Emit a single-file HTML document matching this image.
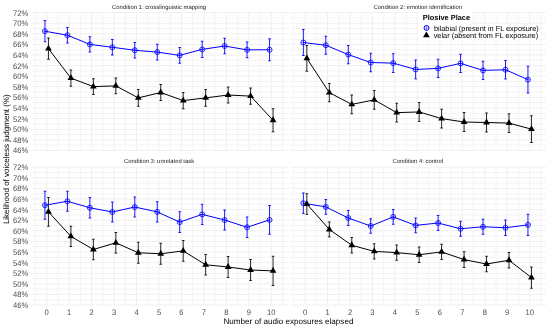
<!DOCTYPE html>
<html><head><meta charset="utf-8"><style>
html,body{margin:0;padding:0;background:#fff;}
svg{display:block;}
svg{will-change:transform;}
text{text-rendering:geometricPrecision;}
</style></head><body>
<svg width="550" height="328" viewBox="0 0 550 328">
<rect width="550" height="328" fill="#fff"/>
<line x1="35.47" y1="12.3" x2="35.47" y2="150.4" stroke="#f4f4f4" stroke-width="1"/>
<line x1="57.93" y1="12.3" x2="57.93" y2="150.4" stroke="#f4f4f4" stroke-width="1"/>
<line x1="80.39" y1="12.3" x2="80.39" y2="150.4" stroke="#f4f4f4" stroke-width="1"/>
<line x1="102.85" y1="12.3" x2="102.85" y2="150.4" stroke="#f4f4f4" stroke-width="1"/>
<line x1="125.31" y1="12.3" x2="125.31" y2="150.4" stroke="#f4f4f4" stroke-width="1"/>
<line x1="147.77" y1="12.3" x2="147.77" y2="150.4" stroke="#f4f4f4" stroke-width="1"/>
<line x1="170.23" y1="12.3" x2="170.23" y2="150.4" stroke="#f4f4f4" stroke-width="1"/>
<line x1="192.69" y1="12.3" x2="192.69" y2="150.4" stroke="#f4f4f4" stroke-width="1"/>
<line x1="215.15" y1="12.3" x2="215.15" y2="150.4" stroke="#f4f4f4" stroke-width="1"/>
<line x1="237.61" y1="12.3" x2="237.61" y2="150.4" stroke="#f4f4f4" stroke-width="1"/>
<line x1="260.07" y1="12.3" x2="260.07" y2="150.4" stroke="#f4f4f4" stroke-width="1"/>
<line x1="282.53" y1="12.3" x2="282.53" y2="150.4" stroke="#f4f4f4" stroke-width="1"/>
<line x1="31.6" y1="145.10" x2="287.8" y2="145.10" stroke="#f4f4f4" stroke-width="1"/>
<line x1="31.6" y1="134.50" x2="287.8" y2="134.50" stroke="#f4f4f4" stroke-width="1"/>
<line x1="31.6" y1="123.90" x2="287.8" y2="123.90" stroke="#f4f4f4" stroke-width="1"/>
<line x1="31.6" y1="113.30" x2="287.8" y2="113.30" stroke="#f4f4f4" stroke-width="1"/>
<line x1="31.6" y1="102.70" x2="287.8" y2="102.70" stroke="#f4f4f4" stroke-width="1"/>
<line x1="31.6" y1="92.10" x2="287.8" y2="92.10" stroke="#f4f4f4" stroke-width="1"/>
<line x1="31.6" y1="81.50" x2="287.8" y2="81.50" stroke="#f4f4f4" stroke-width="1"/>
<line x1="31.6" y1="70.90" x2="287.8" y2="70.90" stroke="#f4f4f4" stroke-width="1"/>
<line x1="31.6" y1="60.30" x2="287.8" y2="60.30" stroke="#f4f4f4" stroke-width="1"/>
<line x1="31.6" y1="49.70" x2="287.8" y2="49.70" stroke="#f4f4f4" stroke-width="1"/>
<line x1="31.6" y1="39.10" x2="287.8" y2="39.10" stroke="#f4f4f4" stroke-width="1"/>
<line x1="31.6" y1="28.50" x2="287.8" y2="28.50" stroke="#f4f4f4" stroke-width="1"/>
<line x1="31.6" y1="17.90" x2="287.8" y2="17.90" stroke="#f4f4f4" stroke-width="1"/>
<line x1="46.70" y1="12.3" x2="46.70" y2="150.4" stroke="#f0f0f0" stroke-width="1"/>
<line x1="69.16" y1="12.3" x2="69.16" y2="150.4" stroke="#f0f0f0" stroke-width="1"/>
<line x1="91.62" y1="12.3" x2="91.62" y2="150.4" stroke="#f0f0f0" stroke-width="1"/>
<line x1="114.08" y1="12.3" x2="114.08" y2="150.4" stroke="#f0f0f0" stroke-width="1"/>
<line x1="136.54" y1="12.3" x2="136.54" y2="150.4" stroke="#f0f0f0" stroke-width="1"/>
<line x1="159.00" y1="12.3" x2="159.00" y2="150.4" stroke="#f0f0f0" stroke-width="1"/>
<line x1="181.46" y1="12.3" x2="181.46" y2="150.4" stroke="#f0f0f0" stroke-width="1"/>
<line x1="203.92" y1="12.3" x2="203.92" y2="150.4" stroke="#f0f0f0" stroke-width="1"/>
<line x1="226.38" y1="12.3" x2="226.38" y2="150.4" stroke="#f0f0f0" stroke-width="1"/>
<line x1="248.84" y1="12.3" x2="248.84" y2="150.4" stroke="#f0f0f0" stroke-width="1"/>
<line x1="271.30" y1="12.3" x2="271.30" y2="150.4" stroke="#f0f0f0" stroke-width="1"/>
<line x1="31.6" y1="150.40" x2="287.8" y2="150.40" stroke="#f0f0f0" stroke-width="1"/>
<line x1="31.6" y1="139.80" x2="287.8" y2="139.80" stroke="#f0f0f0" stroke-width="1"/>
<line x1="31.6" y1="129.20" x2="287.8" y2="129.20" stroke="#f0f0f0" stroke-width="1"/>
<line x1="31.6" y1="118.60" x2="287.8" y2="118.60" stroke="#f0f0f0" stroke-width="1"/>
<line x1="31.6" y1="108.00" x2="287.8" y2="108.00" stroke="#f0f0f0" stroke-width="1"/>
<line x1="31.6" y1="97.40" x2="287.8" y2="97.40" stroke="#f0f0f0" stroke-width="1"/>
<line x1="31.6" y1="86.80" x2="287.8" y2="86.80" stroke="#f0f0f0" stroke-width="1"/>
<line x1="31.6" y1="76.20" x2="287.8" y2="76.20" stroke="#f0f0f0" stroke-width="1"/>
<line x1="31.6" y1="65.60" x2="287.8" y2="65.60" stroke="#f0f0f0" stroke-width="1"/>
<line x1="31.6" y1="55.00" x2="287.8" y2="55.00" stroke="#f0f0f0" stroke-width="1"/>
<line x1="31.6" y1="44.40" x2="287.8" y2="44.40" stroke="#f0f0f0" stroke-width="1"/>
<line x1="31.6" y1="33.80" x2="287.8" y2="33.80" stroke="#f0f0f0" stroke-width="1"/>
<line x1="31.6" y1="23.20" x2="287.8" y2="23.20" stroke="#f0f0f0" stroke-width="1"/>
<line x1="31.6" y1="12.60" x2="287.8" y2="12.60" stroke="#f0f0f0" stroke-width="1"/>
<line x1="293.87" y1="12.3" x2="293.87" y2="150.4" stroke="#f4f4f4" stroke-width="1"/>
<line x1="316.33" y1="12.3" x2="316.33" y2="150.4" stroke="#f4f4f4" stroke-width="1"/>
<line x1="338.79" y1="12.3" x2="338.79" y2="150.4" stroke="#f4f4f4" stroke-width="1"/>
<line x1="361.25" y1="12.3" x2="361.25" y2="150.4" stroke="#f4f4f4" stroke-width="1"/>
<line x1="383.71" y1="12.3" x2="383.71" y2="150.4" stroke="#f4f4f4" stroke-width="1"/>
<line x1="406.17" y1="12.3" x2="406.17" y2="150.4" stroke="#f4f4f4" stroke-width="1"/>
<line x1="428.63" y1="12.3" x2="428.63" y2="150.4" stroke="#f4f4f4" stroke-width="1"/>
<line x1="451.09" y1="12.3" x2="451.09" y2="150.4" stroke="#f4f4f4" stroke-width="1"/>
<line x1="473.55" y1="12.3" x2="473.55" y2="150.4" stroke="#f4f4f4" stroke-width="1"/>
<line x1="496.01" y1="12.3" x2="496.01" y2="150.4" stroke="#f4f4f4" stroke-width="1"/>
<line x1="518.47" y1="12.3" x2="518.47" y2="150.4" stroke="#f4f4f4" stroke-width="1"/>
<line x1="540.93" y1="12.3" x2="540.93" y2="150.4" stroke="#f4f4f4" stroke-width="1"/>
<line x1="290.1" y1="145.10" x2="546.0" y2="145.10" stroke="#f4f4f4" stroke-width="1"/>
<line x1="290.1" y1="134.50" x2="546.0" y2="134.50" stroke="#f4f4f4" stroke-width="1"/>
<line x1="290.1" y1="123.90" x2="546.0" y2="123.90" stroke="#f4f4f4" stroke-width="1"/>
<line x1="290.1" y1="113.30" x2="546.0" y2="113.30" stroke="#f4f4f4" stroke-width="1"/>
<line x1="290.1" y1="102.70" x2="546.0" y2="102.70" stroke="#f4f4f4" stroke-width="1"/>
<line x1="290.1" y1="92.10" x2="546.0" y2="92.10" stroke="#f4f4f4" stroke-width="1"/>
<line x1="290.1" y1="81.50" x2="546.0" y2="81.50" stroke="#f4f4f4" stroke-width="1"/>
<line x1="290.1" y1="70.90" x2="546.0" y2="70.90" stroke="#f4f4f4" stroke-width="1"/>
<line x1="290.1" y1="60.30" x2="546.0" y2="60.30" stroke="#f4f4f4" stroke-width="1"/>
<line x1="290.1" y1="49.70" x2="546.0" y2="49.70" stroke="#f4f4f4" stroke-width="1"/>
<line x1="290.1" y1="39.10" x2="546.0" y2="39.10" stroke="#f4f4f4" stroke-width="1"/>
<line x1="290.1" y1="28.50" x2="546.0" y2="28.50" stroke="#f4f4f4" stroke-width="1"/>
<line x1="290.1" y1="17.90" x2="546.0" y2="17.90" stroke="#f4f4f4" stroke-width="1"/>
<line x1="305.10" y1="12.3" x2="305.10" y2="150.4" stroke="#f0f0f0" stroke-width="1"/>
<line x1="327.56" y1="12.3" x2="327.56" y2="150.4" stroke="#f0f0f0" stroke-width="1"/>
<line x1="350.02" y1="12.3" x2="350.02" y2="150.4" stroke="#f0f0f0" stroke-width="1"/>
<line x1="372.48" y1="12.3" x2="372.48" y2="150.4" stroke="#f0f0f0" stroke-width="1"/>
<line x1="394.94" y1="12.3" x2="394.94" y2="150.4" stroke="#f0f0f0" stroke-width="1"/>
<line x1="417.40" y1="12.3" x2="417.40" y2="150.4" stroke="#f0f0f0" stroke-width="1"/>
<line x1="439.86" y1="12.3" x2="439.86" y2="150.4" stroke="#f0f0f0" stroke-width="1"/>
<line x1="462.32" y1="12.3" x2="462.32" y2="150.4" stroke="#f0f0f0" stroke-width="1"/>
<line x1="484.78" y1="12.3" x2="484.78" y2="150.4" stroke="#f0f0f0" stroke-width="1"/>
<line x1="507.24" y1="12.3" x2="507.24" y2="150.4" stroke="#f0f0f0" stroke-width="1"/>
<line x1="529.70" y1="12.3" x2="529.70" y2="150.4" stroke="#f0f0f0" stroke-width="1"/>
<line x1="290.1" y1="150.40" x2="546.0" y2="150.40" stroke="#f0f0f0" stroke-width="1"/>
<line x1="290.1" y1="139.80" x2="546.0" y2="139.80" stroke="#f0f0f0" stroke-width="1"/>
<line x1="290.1" y1="129.20" x2="546.0" y2="129.20" stroke="#f0f0f0" stroke-width="1"/>
<line x1="290.1" y1="118.60" x2="546.0" y2="118.60" stroke="#f0f0f0" stroke-width="1"/>
<line x1="290.1" y1="108.00" x2="546.0" y2="108.00" stroke="#f0f0f0" stroke-width="1"/>
<line x1="290.1" y1="97.40" x2="546.0" y2="97.40" stroke="#f0f0f0" stroke-width="1"/>
<line x1="290.1" y1="86.80" x2="546.0" y2="86.80" stroke="#f0f0f0" stroke-width="1"/>
<line x1="290.1" y1="76.20" x2="546.0" y2="76.20" stroke="#f0f0f0" stroke-width="1"/>
<line x1="290.1" y1="65.60" x2="546.0" y2="65.60" stroke="#f0f0f0" stroke-width="1"/>
<line x1="290.1" y1="55.00" x2="546.0" y2="55.00" stroke="#f0f0f0" stroke-width="1"/>
<line x1="290.1" y1="44.40" x2="546.0" y2="44.40" stroke="#f0f0f0" stroke-width="1"/>
<line x1="290.1" y1="33.80" x2="546.0" y2="33.80" stroke="#f0f0f0" stroke-width="1"/>
<line x1="290.1" y1="23.20" x2="546.0" y2="23.20" stroke="#f0f0f0" stroke-width="1"/>
<line x1="290.1" y1="12.60" x2="546.0" y2="12.60" stroke="#f0f0f0" stroke-width="1"/>
<line x1="35.47" y1="167.0" x2="35.47" y2="305.0" stroke="#f4f4f4" stroke-width="1"/>
<line x1="57.93" y1="167.0" x2="57.93" y2="305.0" stroke="#f4f4f4" stroke-width="1"/>
<line x1="80.39" y1="167.0" x2="80.39" y2="305.0" stroke="#f4f4f4" stroke-width="1"/>
<line x1="102.85" y1="167.0" x2="102.85" y2="305.0" stroke="#f4f4f4" stroke-width="1"/>
<line x1="125.31" y1="167.0" x2="125.31" y2="305.0" stroke="#f4f4f4" stroke-width="1"/>
<line x1="147.77" y1="167.0" x2="147.77" y2="305.0" stroke="#f4f4f4" stroke-width="1"/>
<line x1="170.23" y1="167.0" x2="170.23" y2="305.0" stroke="#f4f4f4" stroke-width="1"/>
<line x1="192.69" y1="167.0" x2="192.69" y2="305.0" stroke="#f4f4f4" stroke-width="1"/>
<line x1="215.15" y1="167.0" x2="215.15" y2="305.0" stroke="#f4f4f4" stroke-width="1"/>
<line x1="237.61" y1="167.0" x2="237.61" y2="305.0" stroke="#f4f4f4" stroke-width="1"/>
<line x1="260.07" y1="167.0" x2="260.07" y2="305.0" stroke="#f4f4f4" stroke-width="1"/>
<line x1="282.53" y1="167.0" x2="282.53" y2="305.0" stroke="#f4f4f4" stroke-width="1"/>
<line x1="31.6" y1="299.70" x2="287.8" y2="299.70" stroke="#f4f4f4" stroke-width="1"/>
<line x1="31.6" y1="289.10" x2="287.8" y2="289.10" stroke="#f4f4f4" stroke-width="1"/>
<line x1="31.6" y1="278.50" x2="287.8" y2="278.50" stroke="#f4f4f4" stroke-width="1"/>
<line x1="31.6" y1="267.90" x2="287.8" y2="267.90" stroke="#f4f4f4" stroke-width="1"/>
<line x1="31.6" y1="257.30" x2="287.8" y2="257.30" stroke="#f4f4f4" stroke-width="1"/>
<line x1="31.6" y1="246.70" x2="287.8" y2="246.70" stroke="#f4f4f4" stroke-width="1"/>
<line x1="31.6" y1="236.10" x2="287.8" y2="236.10" stroke="#f4f4f4" stroke-width="1"/>
<line x1="31.6" y1="225.50" x2="287.8" y2="225.50" stroke="#f4f4f4" stroke-width="1"/>
<line x1="31.6" y1="214.90" x2="287.8" y2="214.90" stroke="#f4f4f4" stroke-width="1"/>
<line x1="31.6" y1="204.30" x2="287.8" y2="204.30" stroke="#f4f4f4" stroke-width="1"/>
<line x1="31.6" y1="193.70" x2="287.8" y2="193.70" stroke="#f4f4f4" stroke-width="1"/>
<line x1="31.6" y1="183.10" x2="287.8" y2="183.10" stroke="#f4f4f4" stroke-width="1"/>
<line x1="31.6" y1="172.50" x2="287.8" y2="172.50" stroke="#f4f4f4" stroke-width="1"/>
<line x1="46.70" y1="167.0" x2="46.70" y2="305.0" stroke="#f0f0f0" stroke-width="1"/>
<line x1="69.16" y1="167.0" x2="69.16" y2="305.0" stroke="#f0f0f0" stroke-width="1"/>
<line x1="91.62" y1="167.0" x2="91.62" y2="305.0" stroke="#f0f0f0" stroke-width="1"/>
<line x1="114.08" y1="167.0" x2="114.08" y2="305.0" stroke="#f0f0f0" stroke-width="1"/>
<line x1="136.54" y1="167.0" x2="136.54" y2="305.0" stroke="#f0f0f0" stroke-width="1"/>
<line x1="159.00" y1="167.0" x2="159.00" y2="305.0" stroke="#f0f0f0" stroke-width="1"/>
<line x1="181.46" y1="167.0" x2="181.46" y2="305.0" stroke="#f0f0f0" stroke-width="1"/>
<line x1="203.92" y1="167.0" x2="203.92" y2="305.0" stroke="#f0f0f0" stroke-width="1"/>
<line x1="226.38" y1="167.0" x2="226.38" y2="305.0" stroke="#f0f0f0" stroke-width="1"/>
<line x1="248.84" y1="167.0" x2="248.84" y2="305.0" stroke="#f0f0f0" stroke-width="1"/>
<line x1="271.30" y1="167.0" x2="271.30" y2="305.0" stroke="#f0f0f0" stroke-width="1"/>
<line x1="31.6" y1="305.00" x2="287.8" y2="305.00" stroke="#f0f0f0" stroke-width="1"/>
<line x1="31.6" y1="294.40" x2="287.8" y2="294.40" stroke="#f0f0f0" stroke-width="1"/>
<line x1="31.6" y1="283.80" x2="287.8" y2="283.80" stroke="#f0f0f0" stroke-width="1"/>
<line x1="31.6" y1="273.20" x2="287.8" y2="273.20" stroke="#f0f0f0" stroke-width="1"/>
<line x1="31.6" y1="262.60" x2="287.8" y2="262.60" stroke="#f0f0f0" stroke-width="1"/>
<line x1="31.6" y1="252.00" x2="287.8" y2="252.00" stroke="#f0f0f0" stroke-width="1"/>
<line x1="31.6" y1="241.40" x2="287.8" y2="241.40" stroke="#f0f0f0" stroke-width="1"/>
<line x1="31.6" y1="230.80" x2="287.8" y2="230.80" stroke="#f0f0f0" stroke-width="1"/>
<line x1="31.6" y1="220.20" x2="287.8" y2="220.20" stroke="#f0f0f0" stroke-width="1"/>
<line x1="31.6" y1="209.60" x2="287.8" y2="209.60" stroke="#f0f0f0" stroke-width="1"/>
<line x1="31.6" y1="199.00" x2="287.8" y2="199.00" stroke="#f0f0f0" stroke-width="1"/>
<line x1="31.6" y1="188.40" x2="287.8" y2="188.40" stroke="#f0f0f0" stroke-width="1"/>
<line x1="31.6" y1="177.80" x2="287.8" y2="177.80" stroke="#f0f0f0" stroke-width="1"/>
<line x1="31.6" y1="167.20" x2="287.8" y2="167.20" stroke="#f0f0f0" stroke-width="1"/>
<line x1="293.87" y1="167.0" x2="293.87" y2="305.0" stroke="#f4f4f4" stroke-width="1"/>
<line x1="316.33" y1="167.0" x2="316.33" y2="305.0" stroke="#f4f4f4" stroke-width="1"/>
<line x1="338.79" y1="167.0" x2="338.79" y2="305.0" stroke="#f4f4f4" stroke-width="1"/>
<line x1="361.25" y1="167.0" x2="361.25" y2="305.0" stroke="#f4f4f4" stroke-width="1"/>
<line x1="383.71" y1="167.0" x2="383.71" y2="305.0" stroke="#f4f4f4" stroke-width="1"/>
<line x1="406.17" y1="167.0" x2="406.17" y2="305.0" stroke="#f4f4f4" stroke-width="1"/>
<line x1="428.63" y1="167.0" x2="428.63" y2="305.0" stroke="#f4f4f4" stroke-width="1"/>
<line x1="451.09" y1="167.0" x2="451.09" y2="305.0" stroke="#f4f4f4" stroke-width="1"/>
<line x1="473.55" y1="167.0" x2="473.55" y2="305.0" stroke="#f4f4f4" stroke-width="1"/>
<line x1="496.01" y1="167.0" x2="496.01" y2="305.0" stroke="#f4f4f4" stroke-width="1"/>
<line x1="518.47" y1="167.0" x2="518.47" y2="305.0" stroke="#f4f4f4" stroke-width="1"/>
<line x1="540.93" y1="167.0" x2="540.93" y2="305.0" stroke="#f4f4f4" stroke-width="1"/>
<line x1="290.1" y1="299.70" x2="546.0" y2="299.70" stroke="#f4f4f4" stroke-width="1"/>
<line x1="290.1" y1="289.10" x2="546.0" y2="289.10" stroke="#f4f4f4" stroke-width="1"/>
<line x1="290.1" y1="278.50" x2="546.0" y2="278.50" stroke="#f4f4f4" stroke-width="1"/>
<line x1="290.1" y1="267.90" x2="546.0" y2="267.90" stroke="#f4f4f4" stroke-width="1"/>
<line x1="290.1" y1="257.30" x2="546.0" y2="257.30" stroke="#f4f4f4" stroke-width="1"/>
<line x1="290.1" y1="246.70" x2="546.0" y2="246.70" stroke="#f4f4f4" stroke-width="1"/>
<line x1="290.1" y1="236.10" x2="546.0" y2="236.10" stroke="#f4f4f4" stroke-width="1"/>
<line x1="290.1" y1="225.50" x2="546.0" y2="225.50" stroke="#f4f4f4" stroke-width="1"/>
<line x1="290.1" y1="214.90" x2="546.0" y2="214.90" stroke="#f4f4f4" stroke-width="1"/>
<line x1="290.1" y1="204.30" x2="546.0" y2="204.30" stroke="#f4f4f4" stroke-width="1"/>
<line x1="290.1" y1="193.70" x2="546.0" y2="193.70" stroke="#f4f4f4" stroke-width="1"/>
<line x1="290.1" y1="183.10" x2="546.0" y2="183.10" stroke="#f4f4f4" stroke-width="1"/>
<line x1="290.1" y1="172.50" x2="546.0" y2="172.50" stroke="#f4f4f4" stroke-width="1"/>
<line x1="305.10" y1="167.0" x2="305.10" y2="305.0" stroke="#f0f0f0" stroke-width="1"/>
<line x1="327.56" y1="167.0" x2="327.56" y2="305.0" stroke="#f0f0f0" stroke-width="1"/>
<line x1="350.02" y1="167.0" x2="350.02" y2="305.0" stroke="#f0f0f0" stroke-width="1"/>
<line x1="372.48" y1="167.0" x2="372.48" y2="305.0" stroke="#f0f0f0" stroke-width="1"/>
<line x1="394.94" y1="167.0" x2="394.94" y2="305.0" stroke="#f0f0f0" stroke-width="1"/>
<line x1="417.40" y1="167.0" x2="417.40" y2="305.0" stroke="#f0f0f0" stroke-width="1"/>
<line x1="439.86" y1="167.0" x2="439.86" y2="305.0" stroke="#f0f0f0" stroke-width="1"/>
<line x1="462.32" y1="167.0" x2="462.32" y2="305.0" stroke="#f0f0f0" stroke-width="1"/>
<line x1="484.78" y1="167.0" x2="484.78" y2="305.0" stroke="#f0f0f0" stroke-width="1"/>
<line x1="507.24" y1="167.0" x2="507.24" y2="305.0" stroke="#f0f0f0" stroke-width="1"/>
<line x1="529.70" y1="167.0" x2="529.70" y2="305.0" stroke="#f0f0f0" stroke-width="1"/>
<line x1="290.1" y1="305.00" x2="546.0" y2="305.00" stroke="#f0f0f0" stroke-width="1"/>
<line x1="290.1" y1="294.40" x2="546.0" y2="294.40" stroke="#f0f0f0" stroke-width="1"/>
<line x1="290.1" y1="283.80" x2="546.0" y2="283.80" stroke="#f0f0f0" stroke-width="1"/>
<line x1="290.1" y1="273.20" x2="546.0" y2="273.20" stroke="#f0f0f0" stroke-width="1"/>
<line x1="290.1" y1="262.60" x2="546.0" y2="262.60" stroke="#f0f0f0" stroke-width="1"/>
<line x1="290.1" y1="252.00" x2="546.0" y2="252.00" stroke="#f0f0f0" stroke-width="1"/>
<line x1="290.1" y1="241.40" x2="546.0" y2="241.40" stroke="#f0f0f0" stroke-width="1"/>
<line x1="290.1" y1="230.80" x2="546.0" y2="230.80" stroke="#f0f0f0" stroke-width="1"/>
<line x1="290.1" y1="220.20" x2="546.0" y2="220.20" stroke="#f0f0f0" stroke-width="1"/>
<line x1="290.1" y1="209.60" x2="546.0" y2="209.60" stroke="#f0f0f0" stroke-width="1"/>
<line x1="290.1" y1="199.00" x2="546.0" y2="199.00" stroke="#f0f0f0" stroke-width="1"/>
<line x1="290.1" y1="188.40" x2="546.0" y2="188.40" stroke="#f0f0f0" stroke-width="1"/>
<line x1="290.1" y1="177.80" x2="546.0" y2="177.80" stroke="#f0f0f0" stroke-width="1"/>
<line x1="290.1" y1="167.20" x2="546.0" y2="167.20" stroke="#f0f0f0" stroke-width="1"/>
<line x1="44.95" y1="20.6" x2="44.95" y2="41.8" stroke="#0000ff" stroke-width="0.9"/>
<line x1="43.65" y1="20.6" x2="46.25" y2="20.6" stroke="#0000ff" stroke-width="0.9"/>
<line x1="43.65" y1="41.8" x2="46.25" y2="41.8" stroke="#0000ff" stroke-width="0.9"/>
<line x1="67.41" y1="27.5" x2="67.41" y2="43" stroke="#0000ff" stroke-width="0.9"/>
<line x1="66.11" y1="27.5" x2="68.71" y2="27.5" stroke="#0000ff" stroke-width="0.9"/>
<line x1="66.11" y1="43" x2="68.71" y2="43" stroke="#0000ff" stroke-width="0.9"/>
<line x1="89.87" y1="36.75" x2="89.87" y2="52" stroke="#0000ff" stroke-width="0.9"/>
<line x1="88.57" y1="36.75" x2="91.17" y2="36.75" stroke="#0000ff" stroke-width="0.9"/>
<line x1="88.57" y1="52" x2="91.17" y2="52" stroke="#0000ff" stroke-width="0.9"/>
<line x1="112.33" y1="39.5" x2="112.33" y2="55" stroke="#0000ff" stroke-width="0.9"/>
<line x1="111.03" y1="39.5" x2="113.63" y2="39.5" stroke="#0000ff" stroke-width="0.9"/>
<line x1="111.03" y1="55" x2="113.63" y2="55" stroke="#0000ff" stroke-width="0.9"/>
<line x1="134.79" y1="42.5" x2="134.79" y2="58" stroke="#0000ff" stroke-width="0.9"/>
<line x1="133.49" y1="42.5" x2="136.09" y2="42.5" stroke="#0000ff" stroke-width="0.9"/>
<line x1="133.49" y1="58" x2="136.09" y2="58" stroke="#0000ff" stroke-width="0.9"/>
<line x1="157.25" y1="44.25" x2="157.25" y2="60" stroke="#0000ff" stroke-width="0.9"/>
<line x1="155.95" y1="44.25" x2="158.55" y2="44.25" stroke="#0000ff" stroke-width="0.9"/>
<line x1="155.95" y1="60" x2="158.55" y2="60" stroke="#0000ff" stroke-width="0.9"/>
<line x1="179.71" y1="47.5" x2="179.71" y2="63.25" stroke="#0000ff" stroke-width="0.9"/>
<line x1="178.41" y1="47.5" x2="181.01" y2="47.5" stroke="#0000ff" stroke-width="0.9"/>
<line x1="178.41" y1="63.25" x2="181.01" y2="63.25" stroke="#0000ff" stroke-width="0.9"/>
<line x1="202.17" y1="41.25" x2="202.17" y2="57.5" stroke="#0000ff" stroke-width="0.9"/>
<line x1="200.87" y1="41.25" x2="203.47" y2="41.25" stroke="#0000ff" stroke-width="0.9"/>
<line x1="200.87" y1="57.5" x2="203.47" y2="57.5" stroke="#0000ff" stroke-width="0.9"/>
<line x1="224.63" y1="38.25" x2="224.63" y2="53.75" stroke="#0000ff" stroke-width="0.9"/>
<line x1="223.33" y1="38.25" x2="225.93" y2="38.25" stroke="#0000ff" stroke-width="0.9"/>
<line x1="223.33" y1="53.75" x2="225.93" y2="53.75" stroke="#0000ff" stroke-width="0.9"/>
<line x1="247.09" y1="42" x2="247.09" y2="57.75" stroke="#0000ff" stroke-width="0.9"/>
<line x1="245.79" y1="42" x2="248.39" y2="42" stroke="#0000ff" stroke-width="0.9"/>
<line x1="245.79" y1="57.75" x2="248.39" y2="57.75" stroke="#0000ff" stroke-width="0.9"/>
<line x1="269.55" y1="38.75" x2="269.55" y2="60.75" stroke="#0000ff" stroke-width="0.9"/>
<line x1="268.25" y1="38.75" x2="270.85" y2="38.75" stroke="#0000ff" stroke-width="0.9"/>
<line x1="268.25" y1="60.75" x2="270.85" y2="60.75" stroke="#0000ff" stroke-width="0.9"/>
<line x1="48.45" y1="38" x2="48.45" y2="59.25" stroke="#000" stroke-width="0.85"/>
<line x1="47.15" y1="38" x2="49.75" y2="38" stroke="#000" stroke-width="0.85"/>
<line x1="47.15" y1="59.25" x2="49.75" y2="59.25" stroke="#000" stroke-width="0.85"/>
<line x1="70.91" y1="70" x2="70.91" y2="86.25" stroke="#000" stroke-width="0.85"/>
<line x1="69.61" y1="70" x2="72.21" y2="70" stroke="#000" stroke-width="0.85"/>
<line x1="69.61" y1="86.25" x2="72.21" y2="86.25" stroke="#000" stroke-width="0.85"/>
<line x1="93.37" y1="78.75" x2="93.37" y2="94.5" stroke="#000" stroke-width="0.85"/>
<line x1="92.07" y1="78.75" x2="94.67" y2="78.75" stroke="#000" stroke-width="0.85"/>
<line x1="92.07" y1="94.5" x2="94.67" y2="94.5" stroke="#000" stroke-width="0.85"/>
<line x1="115.83" y1="78" x2="115.83" y2="93.75" stroke="#000" stroke-width="0.85"/>
<line x1="114.53" y1="78" x2="117.13" y2="78" stroke="#000" stroke-width="0.85"/>
<line x1="114.53" y1="93.75" x2="117.13" y2="93.75" stroke="#000" stroke-width="0.85"/>
<line x1="138.29" y1="89.5" x2="138.29" y2="106.25" stroke="#000" stroke-width="0.85"/>
<line x1="136.99" y1="89.5" x2="139.59" y2="89.5" stroke="#000" stroke-width="0.85"/>
<line x1="136.99" y1="106.25" x2="139.59" y2="106.25" stroke="#000" stroke-width="0.85"/>
<line x1="160.75" y1="84.5" x2="160.75" y2="100.5" stroke="#000" stroke-width="0.85"/>
<line x1="159.45" y1="84.5" x2="162.05" y2="84.5" stroke="#000" stroke-width="0.85"/>
<line x1="159.45" y1="100.5" x2="162.05" y2="100.5" stroke="#000" stroke-width="0.85"/>
<line x1="183.21" y1="92.5" x2="183.21" y2="108.75" stroke="#000" stroke-width="0.85"/>
<line x1="181.91" y1="92.5" x2="184.51" y2="92.5" stroke="#000" stroke-width="0.85"/>
<line x1="181.91" y1="108.75" x2="184.51" y2="108.75" stroke="#000" stroke-width="0.85"/>
<line x1="205.67" y1="89.5" x2="205.67" y2="106.25" stroke="#000" stroke-width="0.85"/>
<line x1="204.37" y1="89.5" x2="206.97" y2="89.5" stroke="#000" stroke-width="0.85"/>
<line x1="204.37" y1="106.25" x2="206.97" y2="106.25" stroke="#000" stroke-width="0.85"/>
<line x1="228.13" y1="87" x2="228.13" y2="103" stroke="#000" stroke-width="0.85"/>
<line x1="226.83" y1="87" x2="229.43" y2="87" stroke="#000" stroke-width="0.85"/>
<line x1="226.83" y1="103" x2="229.43" y2="103" stroke="#000" stroke-width="0.85"/>
<line x1="250.59" y1="88" x2="250.59" y2="104.25" stroke="#000" stroke-width="0.85"/>
<line x1="249.29" y1="88" x2="251.89" y2="88" stroke="#000" stroke-width="0.85"/>
<line x1="249.29" y1="104.25" x2="251.89" y2="104.25" stroke="#000" stroke-width="0.85"/>
<line x1="273.05" y1="108.75" x2="273.05" y2="131.75" stroke="#000" stroke-width="0.85"/>
<line x1="271.75" y1="108.75" x2="274.35" y2="108.75" stroke="#000" stroke-width="0.85"/>
<line x1="271.75" y1="131.75" x2="274.35" y2="131.75" stroke="#000" stroke-width="0.85"/>
<path d="M44.95,31.20 L67.41,35.25 L89.87,44.38 L112.33,47.25 L134.79,50.25 L157.25,52.12 L179.71,55.38 L202.17,49.38 L224.63,46.00 L247.09,49.88 L269.55,49.75" fill="none" stroke="#0000ff" stroke-width="1.0" stroke-linejoin="round"/>
<path d="M48.45,48.62 L70.91,78.12 L93.37,86.62 L115.83,85.88 L138.29,97.88 L160.75,92.50 L183.21,100.62 L205.67,97.88 L228.13,95.00 L250.59,96.12 L273.05,120.25" fill="none" stroke="#000" stroke-width="1.0" stroke-linejoin="round"/>
<circle cx="44.95" cy="31.20" r="2.5" fill="none" stroke="#0000ff" stroke-width="0.8"/><path d="M42.45,31.20H47.45M44.95,28.70V33.70" stroke="#0000ff" stroke-width="0.4"/>
<circle cx="67.41" cy="35.25" r="2.5" fill="none" stroke="#0000ff" stroke-width="0.8"/><path d="M64.91,35.25H69.91M67.41,32.75V37.75" stroke="#0000ff" stroke-width="0.4"/>
<circle cx="89.87" cy="44.38" r="2.5" fill="none" stroke="#0000ff" stroke-width="0.8"/><path d="M87.37,44.38H92.37M89.87,41.88V46.88" stroke="#0000ff" stroke-width="0.4"/>
<circle cx="112.33" cy="47.25" r="2.5" fill="none" stroke="#0000ff" stroke-width="0.8"/><path d="M109.83,47.25H114.83M112.33,44.75V49.75" stroke="#0000ff" stroke-width="0.4"/>
<circle cx="134.79" cy="50.25" r="2.5" fill="none" stroke="#0000ff" stroke-width="0.8"/><path d="M132.29,50.25H137.29M134.79,47.75V52.75" stroke="#0000ff" stroke-width="0.4"/>
<circle cx="157.25" cy="52.12" r="2.5" fill="none" stroke="#0000ff" stroke-width="0.8"/><path d="M154.75,52.12H159.75M157.25,49.62V54.62" stroke="#0000ff" stroke-width="0.4"/>
<circle cx="179.71" cy="55.38" r="2.5" fill="none" stroke="#0000ff" stroke-width="0.8"/><path d="M177.21,55.38H182.21M179.71,52.88V57.88" stroke="#0000ff" stroke-width="0.4"/>
<circle cx="202.17" cy="49.38" r="2.5" fill="none" stroke="#0000ff" stroke-width="0.8"/><path d="M199.67,49.38H204.67M202.17,46.88V51.88" stroke="#0000ff" stroke-width="0.4"/>
<circle cx="224.63" cy="46.00" r="2.5" fill="none" stroke="#0000ff" stroke-width="0.8"/><path d="M222.13,46.00H227.13M224.63,43.50V48.50" stroke="#0000ff" stroke-width="0.4"/>
<circle cx="247.09" cy="49.88" r="2.5" fill="none" stroke="#0000ff" stroke-width="0.8"/><path d="M244.59,49.88H249.59M247.09,47.38V52.38" stroke="#0000ff" stroke-width="0.4"/>
<circle cx="269.55" cy="49.75" r="2.5" fill="none" stroke="#0000ff" stroke-width="0.8"/><path d="M267.05,49.75H272.05M269.55,47.25V52.25" stroke="#0000ff" stroke-width="0.4"/>
<path d="M48.45,44.73L51.83,50.58L45.07,50.58Z" fill="#000"/>
<path d="M70.91,74.22L74.29,80.08L67.53,80.08Z" fill="#000"/>
<path d="M93.37,82.72L96.75,88.58L89.99,88.58Z" fill="#000"/>
<path d="M115.83,81.97L119.21,87.83L112.45,87.83Z" fill="#000"/>
<path d="M138.29,93.97L141.67,99.83L134.91,99.83Z" fill="#000"/>
<path d="M160.75,88.60L164.13,94.45L157.37,94.45Z" fill="#000"/>
<path d="M183.21,96.72L186.59,102.58L179.83,102.58Z" fill="#000"/>
<path d="M205.67,93.97L209.05,99.83L202.29,99.83Z" fill="#000"/>
<path d="M228.13,91.10L231.51,96.95L224.75,96.95Z" fill="#000"/>
<path d="M250.59,92.22L253.97,98.08L247.21,98.08Z" fill="#000"/>
<path d="M273.05,116.35L276.43,122.20L269.67,122.20Z" fill="#000"/>
<line x1="303.35" y1="29.5" x2="303.35" y2="55.5" stroke="#0000ff" stroke-width="0.9"/>
<line x1="302.05" y1="29.5" x2="304.65" y2="29.5" stroke="#0000ff" stroke-width="0.9"/>
<line x1="302.05" y1="55.5" x2="304.65" y2="55.5" stroke="#0000ff" stroke-width="0.9"/>
<line x1="325.81" y1="36.25" x2="325.81" y2="54.25" stroke="#0000ff" stroke-width="0.9"/>
<line x1="324.51" y1="36.25" x2="327.11" y2="36.25" stroke="#0000ff" stroke-width="0.9"/>
<line x1="324.51" y1="54.25" x2="327.11" y2="54.25" stroke="#0000ff" stroke-width="0.9"/>
<line x1="348.27" y1="45.5" x2="348.27" y2="63.75" stroke="#0000ff" stroke-width="0.9"/>
<line x1="346.97" y1="45.5" x2="349.57" y2="45.5" stroke="#0000ff" stroke-width="0.9"/>
<line x1="346.97" y1="63.75" x2="349.57" y2="63.75" stroke="#0000ff" stroke-width="0.9"/>
<line x1="370.73" y1="53.25" x2="370.73" y2="71.75" stroke="#0000ff" stroke-width="0.9"/>
<line x1="369.43" y1="53.25" x2="372.03" y2="53.25" stroke="#0000ff" stroke-width="0.9"/>
<line x1="369.43" y1="71.75" x2="372.03" y2="71.75" stroke="#0000ff" stroke-width="0.9"/>
<line x1="393.19" y1="53.75" x2="393.19" y2="72.5" stroke="#0000ff" stroke-width="0.9"/>
<line x1="391.89" y1="53.75" x2="394.49" y2="53.75" stroke="#0000ff" stroke-width="0.9"/>
<line x1="391.89" y1="72.5" x2="394.49" y2="72.5" stroke="#0000ff" stroke-width="0.9"/>
<line x1="415.65" y1="60" x2="415.65" y2="78.9" stroke="#0000ff" stroke-width="0.9"/>
<line x1="414.35" y1="60" x2="416.95" y2="60" stroke="#0000ff" stroke-width="0.9"/>
<line x1="414.35" y1="78.9" x2="416.95" y2="78.9" stroke="#0000ff" stroke-width="0.9"/>
<line x1="438.11" y1="59.25" x2="438.11" y2="77.5" stroke="#0000ff" stroke-width="0.9"/>
<line x1="436.81" y1="59.25" x2="439.41" y2="59.25" stroke="#0000ff" stroke-width="0.9"/>
<line x1="436.81" y1="77.5" x2="439.41" y2="77.5" stroke="#0000ff" stroke-width="0.9"/>
<line x1="460.57" y1="54.25" x2="460.57" y2="72.5" stroke="#0000ff" stroke-width="0.9"/>
<line x1="459.27" y1="54.25" x2="461.87" y2="54.25" stroke="#0000ff" stroke-width="0.9"/>
<line x1="459.27" y1="72.5" x2="461.87" y2="72.5" stroke="#0000ff" stroke-width="0.9"/>
<line x1="483.03" y1="61.25" x2="483.03" y2="79.5" stroke="#0000ff" stroke-width="0.9"/>
<line x1="481.73" y1="61.25" x2="484.33" y2="61.25" stroke="#0000ff" stroke-width="0.9"/>
<line x1="481.73" y1="79.5" x2="484.33" y2="79.5" stroke="#0000ff" stroke-width="0.9"/>
<line x1="505.49" y1="60.5" x2="505.49" y2="79" stroke="#0000ff" stroke-width="0.9"/>
<line x1="504.19" y1="60.5" x2="506.79" y2="60.5" stroke="#0000ff" stroke-width="0.9"/>
<line x1="504.19" y1="79" x2="506.79" y2="79" stroke="#0000ff" stroke-width="0.9"/>
<line x1="527.95" y1="66.25" x2="527.95" y2="93" stroke="#0000ff" stroke-width="0.9"/>
<line x1="526.65" y1="66.25" x2="529.25" y2="66.25" stroke="#0000ff" stroke-width="0.9"/>
<line x1="526.65" y1="93" x2="529.25" y2="93" stroke="#0000ff" stroke-width="0.9"/>
<line x1="306.85" y1="45.5" x2="306.85" y2="71.25" stroke="#000" stroke-width="0.85"/>
<line x1="305.55" y1="45.5" x2="308.15" y2="45.5" stroke="#000" stroke-width="0.85"/>
<line x1="305.55" y1="71.25" x2="308.15" y2="71.25" stroke="#000" stroke-width="0.85"/>
<line x1="329.31" y1="83.5" x2="329.31" y2="101.75" stroke="#000" stroke-width="0.85"/>
<line x1="328.01" y1="83.5" x2="330.61" y2="83.5" stroke="#000" stroke-width="0.85"/>
<line x1="328.01" y1="101.75" x2="330.61" y2="101.75" stroke="#000" stroke-width="0.85"/>
<line x1="351.77" y1="95" x2="351.77" y2="113.75" stroke="#000" stroke-width="0.85"/>
<line x1="350.47" y1="95" x2="353.07" y2="95" stroke="#000" stroke-width="0.85"/>
<line x1="350.47" y1="113.75" x2="353.07" y2="113.75" stroke="#000" stroke-width="0.85"/>
<line x1="374.23" y1="90.5" x2="374.23" y2="109.25" stroke="#000" stroke-width="0.85"/>
<line x1="372.93" y1="90.5" x2="375.53" y2="90.5" stroke="#000" stroke-width="0.85"/>
<line x1="372.93" y1="109.25" x2="375.53" y2="109.25" stroke="#000" stroke-width="0.85"/>
<line x1="396.69" y1="103.25" x2="396.69" y2="122" stroke="#000" stroke-width="0.85"/>
<line x1="395.39" y1="103.25" x2="397.99" y2="103.25" stroke="#000" stroke-width="0.85"/>
<line x1="395.39" y1="122" x2="397.99" y2="122" stroke="#000" stroke-width="0.85"/>
<line x1="419.15" y1="102.5" x2="419.15" y2="121.4" stroke="#000" stroke-width="0.85"/>
<line x1="417.85" y1="102.5" x2="420.45" y2="102.5" stroke="#000" stroke-width="0.85"/>
<line x1="417.85" y1="121.4" x2="420.45" y2="121.4" stroke="#000" stroke-width="0.85"/>
<line x1="441.61" y1="109.25" x2="441.61" y2="128" stroke="#000" stroke-width="0.85"/>
<line x1="440.31" y1="109.25" x2="442.91" y2="109.25" stroke="#000" stroke-width="0.85"/>
<line x1="440.31" y1="128" x2="442.91" y2="128" stroke="#000" stroke-width="0.85"/>
<line x1="464.07" y1="112.5" x2="464.07" y2="131.5" stroke="#000" stroke-width="0.85"/>
<line x1="462.77" y1="112.5" x2="465.37" y2="112.5" stroke="#000" stroke-width="0.85"/>
<line x1="462.77" y1="131.5" x2="465.37" y2="131.5" stroke="#000" stroke-width="0.85"/>
<line x1="486.53" y1="113" x2="486.53" y2="132" stroke="#000" stroke-width="0.85"/>
<line x1="485.23" y1="113" x2="487.83" y2="113" stroke="#000" stroke-width="0.85"/>
<line x1="485.23" y1="132" x2="487.83" y2="132" stroke="#000" stroke-width="0.85"/>
<line x1="508.99" y1="113.75" x2="508.99" y2="132.5" stroke="#000" stroke-width="0.85"/>
<line x1="507.69" y1="113.75" x2="510.29" y2="113.75" stroke="#000" stroke-width="0.85"/>
<line x1="507.69" y1="132.5" x2="510.29" y2="132.5" stroke="#000" stroke-width="0.85"/>
<line x1="531.45" y1="115.75" x2="531.45" y2="142.5" stroke="#000" stroke-width="0.85"/>
<line x1="530.15" y1="115.75" x2="532.75" y2="115.75" stroke="#000" stroke-width="0.85"/>
<line x1="530.15" y1="142.5" x2="532.75" y2="142.5" stroke="#000" stroke-width="0.85"/>
<path d="M303.35,42.50 L325.81,45.25 L348.27,54.62 L370.73,62.50 L393.19,63.12 L415.65,69.45 L438.11,68.38 L460.57,63.38 L483.03,70.38 L505.49,69.75 L527.95,79.62" fill="none" stroke="#0000ff" stroke-width="1.0" stroke-linejoin="round"/>
<path d="M306.85,58.38 L329.31,92.62 L351.77,104.38 L374.23,99.88 L396.69,112.62 L419.15,111.95 L441.61,118.62 L464.07,122.00 L486.53,122.50 L508.99,123.12 L531.45,129.12" fill="none" stroke="#000" stroke-width="1.0" stroke-linejoin="round"/>
<circle cx="303.35" cy="42.50" r="2.5" fill="none" stroke="#0000ff" stroke-width="0.8"/><path d="M300.85,42.50H305.85M303.35,40.00V45.00" stroke="#0000ff" stroke-width="0.4"/>
<circle cx="325.81" cy="45.25" r="2.5" fill="none" stroke="#0000ff" stroke-width="0.8"/><path d="M323.31,45.25H328.31M325.81,42.75V47.75" stroke="#0000ff" stroke-width="0.4"/>
<circle cx="348.27" cy="54.62" r="2.5" fill="none" stroke="#0000ff" stroke-width="0.8"/><path d="M345.77,54.62H350.77M348.27,52.12V57.12" stroke="#0000ff" stroke-width="0.4"/>
<circle cx="370.73" cy="62.50" r="2.5" fill="none" stroke="#0000ff" stroke-width="0.8"/><path d="M368.23,62.50H373.23M370.73,60.00V65.00" stroke="#0000ff" stroke-width="0.4"/>
<circle cx="393.19" cy="63.12" r="2.5" fill="none" stroke="#0000ff" stroke-width="0.8"/><path d="M390.69,63.12H395.69M393.19,60.62V65.62" stroke="#0000ff" stroke-width="0.4"/>
<circle cx="415.65" cy="69.45" r="2.5" fill="none" stroke="#0000ff" stroke-width="0.8"/><path d="M413.15,69.45H418.15M415.65,66.95V71.95" stroke="#0000ff" stroke-width="0.4"/>
<circle cx="438.11" cy="68.38" r="2.5" fill="none" stroke="#0000ff" stroke-width="0.8"/><path d="M435.61,68.38H440.61M438.11,65.88V70.88" stroke="#0000ff" stroke-width="0.4"/>
<circle cx="460.57" cy="63.38" r="2.5" fill="none" stroke="#0000ff" stroke-width="0.8"/><path d="M458.07,63.38H463.07M460.57,60.88V65.88" stroke="#0000ff" stroke-width="0.4"/>
<circle cx="483.03" cy="70.38" r="2.5" fill="none" stroke="#0000ff" stroke-width="0.8"/><path d="M480.53,70.38H485.53M483.03,67.88V72.88" stroke="#0000ff" stroke-width="0.4"/>
<circle cx="505.49" cy="69.75" r="2.5" fill="none" stroke="#0000ff" stroke-width="0.8"/><path d="M502.99,69.75H507.99M505.49,67.25V72.25" stroke="#0000ff" stroke-width="0.4"/>
<circle cx="527.95" cy="79.62" r="2.5" fill="none" stroke="#0000ff" stroke-width="0.8"/><path d="M525.45,79.62H530.45M527.95,77.12V82.12" stroke="#0000ff" stroke-width="0.4"/>
<path d="M306.85,54.48L310.23,60.33L303.47,60.33Z" fill="#000"/>
<path d="M329.31,88.72L332.69,94.58L325.93,94.58Z" fill="#000"/>
<path d="M351.77,100.47L355.15,106.33L348.39,106.33Z" fill="#000"/>
<path d="M374.23,95.97L377.61,101.83L370.85,101.83Z" fill="#000"/>
<path d="M396.69,108.72L400.07,114.58L393.31,114.58Z" fill="#000"/>
<path d="M419.15,108.05L422.53,113.90L415.77,113.90Z" fill="#000"/>
<path d="M441.61,114.72L444.99,120.58L438.23,120.58Z" fill="#000"/>
<path d="M464.07,118.10L467.45,123.95L460.69,123.95Z" fill="#000"/>
<path d="M486.53,118.60L489.91,124.45L483.15,124.45Z" fill="#000"/>
<path d="M508.99,119.22L512.37,125.08L505.61,125.08Z" fill="#000"/>
<path d="M531.45,125.22L534.83,131.07L528.07,131.07Z" fill="#000"/>
<line x1="44.95" y1="191.25" x2="44.95" y2="219.25" stroke="#0000ff" stroke-width="0.9"/>
<line x1="43.65" y1="191.25" x2="46.25" y2="191.25" stroke="#0000ff" stroke-width="0.9"/>
<line x1="43.65" y1="219.25" x2="46.25" y2="219.25" stroke="#0000ff" stroke-width="0.9"/>
<line x1="67.41" y1="191.25" x2="67.41" y2="211.25" stroke="#0000ff" stroke-width="0.9"/>
<line x1="66.11" y1="191.25" x2="68.71" y2="191.25" stroke="#0000ff" stroke-width="0.9"/>
<line x1="66.11" y1="211.25" x2="68.71" y2="211.25" stroke="#0000ff" stroke-width="0.9"/>
<line x1="89.87" y1="197.5" x2="89.87" y2="218" stroke="#0000ff" stroke-width="0.9"/>
<line x1="88.57" y1="197.5" x2="91.17" y2="197.5" stroke="#0000ff" stroke-width="0.9"/>
<line x1="88.57" y1="218" x2="91.17" y2="218" stroke="#0000ff" stroke-width="0.9"/>
<line x1="112.33" y1="202" x2="112.33" y2="222" stroke="#0000ff" stroke-width="0.9"/>
<line x1="111.03" y1="202" x2="113.63" y2="202" stroke="#0000ff" stroke-width="0.9"/>
<line x1="111.03" y1="222" x2="113.63" y2="222" stroke="#0000ff" stroke-width="0.9"/>
<line x1="134.79" y1="197" x2="134.79" y2="217" stroke="#0000ff" stroke-width="0.9"/>
<line x1="133.49" y1="197" x2="136.09" y2="197" stroke="#0000ff" stroke-width="0.9"/>
<line x1="133.49" y1="217" x2="136.09" y2="217" stroke="#0000ff" stroke-width="0.9"/>
<line x1="157.25" y1="201.75" x2="157.25" y2="222" stroke="#0000ff" stroke-width="0.9"/>
<line x1="155.95" y1="201.75" x2="158.55" y2="201.75" stroke="#0000ff" stroke-width="0.9"/>
<line x1="155.95" y1="222" x2="158.55" y2="222" stroke="#0000ff" stroke-width="0.9"/>
<line x1="179.71" y1="211.75" x2="179.71" y2="232.5" stroke="#0000ff" stroke-width="0.9"/>
<line x1="178.41" y1="211.75" x2="181.01" y2="211.75" stroke="#0000ff" stroke-width="0.9"/>
<line x1="178.41" y1="232.5" x2="181.01" y2="232.5" stroke="#0000ff" stroke-width="0.9"/>
<line x1="202.17" y1="204.25" x2="202.17" y2="224.5" stroke="#0000ff" stroke-width="0.9"/>
<line x1="200.87" y1="204.25" x2="203.47" y2="204.25" stroke="#0000ff" stroke-width="0.9"/>
<line x1="200.87" y1="224.5" x2="203.47" y2="224.5" stroke="#0000ff" stroke-width="0.9"/>
<line x1="224.63" y1="210" x2="224.63" y2="230" stroke="#0000ff" stroke-width="0.9"/>
<line x1="223.33" y1="210" x2="225.93" y2="210" stroke="#0000ff" stroke-width="0.9"/>
<line x1="223.33" y1="230" x2="225.93" y2="230" stroke="#0000ff" stroke-width="0.9"/>
<line x1="247.09" y1="217" x2="247.09" y2="237.5" stroke="#0000ff" stroke-width="0.9"/>
<line x1="245.79" y1="217" x2="248.39" y2="217" stroke="#0000ff" stroke-width="0.9"/>
<line x1="245.79" y1="237.5" x2="248.39" y2="237.5" stroke="#0000ff" stroke-width="0.9"/>
<line x1="269.55" y1="205.5" x2="269.55" y2="234.25" stroke="#0000ff" stroke-width="0.9"/>
<line x1="268.25" y1="205.5" x2="270.85" y2="205.5" stroke="#0000ff" stroke-width="0.9"/>
<line x1="268.25" y1="234.25" x2="270.85" y2="234.25" stroke="#0000ff" stroke-width="0.9"/>
<line x1="48.45" y1="197.5" x2="48.45" y2="226.25" stroke="#000" stroke-width="0.85"/>
<line x1="47.15" y1="197.5" x2="49.75" y2="197.5" stroke="#000" stroke-width="0.85"/>
<line x1="47.15" y1="226.25" x2="49.75" y2="226.25" stroke="#000" stroke-width="0.85"/>
<line x1="70.91" y1="226.25" x2="70.91" y2="246.5" stroke="#000" stroke-width="0.85"/>
<line x1="69.61" y1="226.25" x2="72.21" y2="226.25" stroke="#000" stroke-width="0.85"/>
<line x1="69.61" y1="246.5" x2="72.21" y2="246.5" stroke="#000" stroke-width="0.85"/>
<line x1="93.37" y1="239.25" x2="93.37" y2="259.75" stroke="#000" stroke-width="0.85"/>
<line x1="92.07" y1="239.25" x2="94.67" y2="239.25" stroke="#000" stroke-width="0.85"/>
<line x1="92.07" y1="259.75" x2="94.67" y2="259.75" stroke="#000" stroke-width="0.85"/>
<line x1="115.83" y1="232.5" x2="115.83" y2="253.1" stroke="#000" stroke-width="0.85"/>
<line x1="114.53" y1="232.5" x2="117.13" y2="232.5" stroke="#000" stroke-width="0.85"/>
<line x1="114.53" y1="253.1" x2="117.13" y2="253.1" stroke="#000" stroke-width="0.85"/>
<line x1="138.29" y1="242.25" x2="138.29" y2="263.25" stroke="#000" stroke-width="0.85"/>
<line x1="136.99" y1="242.25" x2="139.59" y2="242.25" stroke="#000" stroke-width="0.85"/>
<line x1="136.99" y1="263.25" x2="139.59" y2="263.25" stroke="#000" stroke-width="0.85"/>
<line x1="160.75" y1="243.25" x2="160.75" y2="264.25" stroke="#000" stroke-width="0.85"/>
<line x1="159.45" y1="243.25" x2="162.05" y2="243.25" stroke="#000" stroke-width="0.85"/>
<line x1="159.45" y1="264.25" x2="162.05" y2="264.25" stroke="#000" stroke-width="0.85"/>
<line x1="183.21" y1="240.5" x2="183.21" y2="261.25" stroke="#000" stroke-width="0.85"/>
<line x1="181.91" y1="240.5" x2="184.51" y2="240.5" stroke="#000" stroke-width="0.85"/>
<line x1="181.91" y1="261.25" x2="184.51" y2="261.25" stroke="#000" stroke-width="0.85"/>
<line x1="205.67" y1="254.5" x2="205.67" y2="275" stroke="#000" stroke-width="0.85"/>
<line x1="204.37" y1="254.5" x2="206.97" y2="254.5" stroke="#000" stroke-width="0.85"/>
<line x1="204.37" y1="275" x2="206.97" y2="275" stroke="#000" stroke-width="0.85"/>
<line x1="228.13" y1="256.5" x2="228.13" y2="277.5" stroke="#000" stroke-width="0.85"/>
<line x1="226.83" y1="256.5" x2="229.43" y2="256.5" stroke="#000" stroke-width="0.85"/>
<line x1="226.83" y1="277.5" x2="229.43" y2="277.5" stroke="#000" stroke-width="0.85"/>
<line x1="250.59" y1="259.5" x2="250.59" y2="280.5" stroke="#000" stroke-width="0.85"/>
<line x1="249.29" y1="259.5" x2="251.89" y2="259.5" stroke="#000" stroke-width="0.85"/>
<line x1="249.29" y1="280.5" x2="251.89" y2="280.5" stroke="#000" stroke-width="0.85"/>
<line x1="273.05" y1="256.25" x2="273.05" y2="285.5" stroke="#000" stroke-width="0.85"/>
<line x1="271.75" y1="256.25" x2="274.35" y2="256.25" stroke="#000" stroke-width="0.85"/>
<line x1="271.75" y1="285.5" x2="274.35" y2="285.5" stroke="#000" stroke-width="0.85"/>
<path d="M44.95,205.25 L67.41,201.25 L89.87,207.75 L112.33,212.00 L134.79,207.00 L157.25,211.88 L179.71,222.12 L202.17,214.38 L224.63,220.00 L247.09,227.25 L269.55,219.88" fill="none" stroke="#0000ff" stroke-width="1.0" stroke-linejoin="round"/>
<path d="M48.45,211.88 L70.91,236.38 L93.37,249.50 L115.83,242.80 L138.29,252.75 L160.75,253.75 L183.21,250.88 L205.67,264.75 L228.13,267.00 L250.59,270.00 L273.05,270.88" fill="none" stroke="#000" stroke-width="1.0" stroke-linejoin="round"/>
<circle cx="44.95" cy="205.25" r="2.5" fill="none" stroke="#0000ff" stroke-width="0.8"/><path d="M42.45,205.25H47.45M44.95,202.75V207.75" stroke="#0000ff" stroke-width="0.4"/>
<circle cx="67.41" cy="201.25" r="2.5" fill="none" stroke="#0000ff" stroke-width="0.8"/><path d="M64.91,201.25H69.91M67.41,198.75V203.75" stroke="#0000ff" stroke-width="0.4"/>
<circle cx="89.87" cy="207.75" r="2.5" fill="none" stroke="#0000ff" stroke-width="0.8"/><path d="M87.37,207.75H92.37M89.87,205.25V210.25" stroke="#0000ff" stroke-width="0.4"/>
<circle cx="112.33" cy="212.00" r="2.5" fill="none" stroke="#0000ff" stroke-width="0.8"/><path d="M109.83,212.00H114.83M112.33,209.50V214.50" stroke="#0000ff" stroke-width="0.4"/>
<circle cx="134.79" cy="207.00" r="2.5" fill="none" stroke="#0000ff" stroke-width="0.8"/><path d="M132.29,207.00H137.29M134.79,204.50V209.50" stroke="#0000ff" stroke-width="0.4"/>
<circle cx="157.25" cy="211.88" r="2.5" fill="none" stroke="#0000ff" stroke-width="0.8"/><path d="M154.75,211.88H159.75M157.25,209.38V214.38" stroke="#0000ff" stroke-width="0.4"/>
<circle cx="179.71" cy="222.12" r="2.5" fill="none" stroke="#0000ff" stroke-width="0.8"/><path d="M177.21,222.12H182.21M179.71,219.62V224.62" stroke="#0000ff" stroke-width="0.4"/>
<circle cx="202.17" cy="214.38" r="2.5" fill="none" stroke="#0000ff" stroke-width="0.8"/><path d="M199.67,214.38H204.67M202.17,211.88V216.88" stroke="#0000ff" stroke-width="0.4"/>
<circle cx="224.63" cy="220.00" r="2.5" fill="none" stroke="#0000ff" stroke-width="0.8"/><path d="M222.13,220.00H227.13M224.63,217.50V222.50" stroke="#0000ff" stroke-width="0.4"/>
<circle cx="247.09" cy="227.25" r="2.5" fill="none" stroke="#0000ff" stroke-width="0.8"/><path d="M244.59,227.25H249.59M247.09,224.75V229.75" stroke="#0000ff" stroke-width="0.4"/>
<circle cx="269.55" cy="219.88" r="2.5" fill="none" stroke="#0000ff" stroke-width="0.8"/><path d="M267.05,219.88H272.05M269.55,217.38V222.38" stroke="#0000ff" stroke-width="0.4"/>
<path d="M48.45,207.97L51.83,213.82L45.07,213.82Z" fill="#000"/>
<path d="M70.91,232.47L74.29,238.32L67.53,238.32Z" fill="#000"/>
<path d="M93.37,245.60L96.75,251.45L89.99,251.45Z" fill="#000"/>
<path d="M115.83,238.90L119.21,244.75L112.45,244.75Z" fill="#000"/>
<path d="M138.29,248.85L141.67,254.70L134.91,254.70Z" fill="#000"/>
<path d="M160.75,249.85L164.13,255.70L157.37,255.70Z" fill="#000"/>
<path d="M183.21,246.97L186.59,252.82L179.83,252.82Z" fill="#000"/>
<path d="M205.67,260.85L209.05,266.70L202.29,266.70Z" fill="#000"/>
<path d="M228.13,263.10L231.51,268.95L224.75,268.95Z" fill="#000"/>
<path d="M250.59,266.10L253.97,271.95L247.21,271.95Z" fill="#000"/>
<path d="M273.05,266.98L276.43,272.82L269.67,272.82Z" fill="#000"/>
<line x1="303.35" y1="193" x2="303.35" y2="213.4" stroke="#0000ff" stroke-width="0.9"/>
<line x1="302.05" y1="193" x2="304.65" y2="193" stroke="#0000ff" stroke-width="0.9"/>
<line x1="302.05" y1="213.4" x2="304.65" y2="213.4" stroke="#0000ff" stroke-width="0.9"/>
<line x1="325.81" y1="199.5" x2="325.81" y2="214.25" stroke="#0000ff" stroke-width="0.9"/>
<line x1="324.51" y1="199.5" x2="327.11" y2="199.5" stroke="#0000ff" stroke-width="0.9"/>
<line x1="324.51" y1="214.25" x2="327.11" y2="214.25" stroke="#0000ff" stroke-width="0.9"/>
<line x1="348.27" y1="210.5" x2="348.27" y2="225.5" stroke="#0000ff" stroke-width="0.9"/>
<line x1="346.97" y1="210.5" x2="349.57" y2="210.5" stroke="#0000ff" stroke-width="0.9"/>
<line x1="346.97" y1="225.5" x2="349.57" y2="225.5" stroke="#0000ff" stroke-width="0.9"/>
<line x1="370.73" y1="218.75" x2="370.73" y2="233.25" stroke="#0000ff" stroke-width="0.9"/>
<line x1="369.43" y1="218.75" x2="372.03" y2="218.75" stroke="#0000ff" stroke-width="0.9"/>
<line x1="369.43" y1="233.25" x2="372.03" y2="233.25" stroke="#0000ff" stroke-width="0.9"/>
<line x1="393.19" y1="209.5" x2="393.19" y2="224.25" stroke="#0000ff" stroke-width="0.9"/>
<line x1="391.89" y1="209.5" x2="394.49" y2="209.5" stroke="#0000ff" stroke-width="0.9"/>
<line x1="391.89" y1="224.25" x2="394.49" y2="224.25" stroke="#0000ff" stroke-width="0.9"/>
<line x1="415.65" y1="218" x2="415.65" y2="232.75" stroke="#0000ff" stroke-width="0.9"/>
<line x1="414.35" y1="218" x2="416.95" y2="218" stroke="#0000ff" stroke-width="0.9"/>
<line x1="414.35" y1="232.75" x2="416.95" y2="232.75" stroke="#0000ff" stroke-width="0.9"/>
<line x1="438.11" y1="215.5" x2="438.11" y2="230.5" stroke="#0000ff" stroke-width="0.9"/>
<line x1="436.81" y1="215.5" x2="439.41" y2="215.5" stroke="#0000ff" stroke-width="0.9"/>
<line x1="436.81" y1="230.5" x2="439.41" y2="230.5" stroke="#0000ff" stroke-width="0.9"/>
<line x1="460.57" y1="221.25" x2="460.57" y2="236.25" stroke="#0000ff" stroke-width="0.9"/>
<line x1="459.27" y1="221.25" x2="461.87" y2="221.25" stroke="#0000ff" stroke-width="0.9"/>
<line x1="459.27" y1="236.25" x2="461.87" y2="236.25" stroke="#0000ff" stroke-width="0.9"/>
<line x1="483.03" y1="219.25" x2="483.03" y2="234.25" stroke="#0000ff" stroke-width="0.9"/>
<line x1="481.73" y1="219.25" x2="484.33" y2="219.25" stroke="#0000ff" stroke-width="0.9"/>
<line x1="481.73" y1="234.25" x2="484.33" y2="234.25" stroke="#0000ff" stroke-width="0.9"/>
<line x1="505.49" y1="220" x2="505.49" y2="235.5" stroke="#0000ff" stroke-width="0.9"/>
<line x1="504.19" y1="220" x2="506.79" y2="220" stroke="#0000ff" stroke-width="0.9"/>
<line x1="504.19" y1="235.5" x2="506.79" y2="235.5" stroke="#0000ff" stroke-width="0.9"/>
<line x1="527.95" y1="214.25" x2="527.95" y2="235.5" stroke="#0000ff" stroke-width="0.9"/>
<line x1="526.65" y1="214.25" x2="529.25" y2="214.25" stroke="#0000ff" stroke-width="0.9"/>
<line x1="526.65" y1="235.5" x2="529.25" y2="235.5" stroke="#0000ff" stroke-width="0.9"/>
<line x1="306.85" y1="193.75" x2="306.85" y2="214.4" stroke="#000" stroke-width="0.85"/>
<line x1="305.55" y1="193.75" x2="308.15" y2="193.75" stroke="#000" stroke-width="0.85"/>
<line x1="305.55" y1="214.4" x2="308.15" y2="214.4" stroke="#000" stroke-width="0.85"/>
<line x1="329.31" y1="222" x2="329.31" y2="236.9" stroke="#000" stroke-width="0.85"/>
<line x1="328.01" y1="222" x2="330.61" y2="222" stroke="#000" stroke-width="0.85"/>
<line x1="328.01" y1="236.9" x2="330.61" y2="236.9" stroke="#000" stroke-width="0.85"/>
<line x1="351.77" y1="237.5" x2="351.77" y2="253" stroke="#000" stroke-width="0.85"/>
<line x1="350.47" y1="237.5" x2="353.07" y2="237.5" stroke="#000" stroke-width="0.85"/>
<line x1="350.47" y1="253" x2="353.07" y2="253" stroke="#000" stroke-width="0.85"/>
<line x1="374.23" y1="243.75" x2="374.23" y2="259" stroke="#000" stroke-width="0.85"/>
<line x1="372.93" y1="243.75" x2="375.53" y2="243.75" stroke="#000" stroke-width="0.85"/>
<line x1="372.93" y1="259" x2="375.53" y2="259" stroke="#000" stroke-width="0.85"/>
<line x1="396.69" y1="245" x2="396.69" y2="260.25" stroke="#000" stroke-width="0.85"/>
<line x1="395.39" y1="245" x2="397.99" y2="245" stroke="#000" stroke-width="0.85"/>
<line x1="395.39" y1="260.25" x2="397.99" y2="260.25" stroke="#000" stroke-width="0.85"/>
<line x1="419.15" y1="247" x2="419.15" y2="262.5" stroke="#000" stroke-width="0.85"/>
<line x1="417.85" y1="247" x2="420.45" y2="247" stroke="#000" stroke-width="0.85"/>
<line x1="417.85" y1="262.5" x2="420.45" y2="262.5" stroke="#000" stroke-width="0.85"/>
<line x1="441.61" y1="244.25" x2="441.61" y2="259.5" stroke="#000" stroke-width="0.85"/>
<line x1="440.31" y1="244.25" x2="442.91" y2="244.25" stroke="#000" stroke-width="0.85"/>
<line x1="440.31" y1="259.5" x2="442.91" y2="259.5" stroke="#000" stroke-width="0.85"/>
<line x1="464.07" y1="251.75" x2="464.07" y2="267.5" stroke="#000" stroke-width="0.85"/>
<line x1="462.77" y1="251.75" x2="465.37" y2="251.75" stroke="#000" stroke-width="0.85"/>
<line x1="462.77" y1="267.5" x2="465.37" y2="267.5" stroke="#000" stroke-width="0.85"/>
<line x1="486.53" y1="256.25" x2="486.53" y2="271.75" stroke="#000" stroke-width="0.85"/>
<line x1="485.23" y1="256.25" x2="487.83" y2="256.25" stroke="#000" stroke-width="0.85"/>
<line x1="485.23" y1="271.75" x2="487.83" y2="271.75" stroke="#000" stroke-width="0.85"/>
<line x1="508.99" y1="252.5" x2="508.99" y2="268" stroke="#000" stroke-width="0.85"/>
<line x1="507.69" y1="252.5" x2="510.29" y2="252.5" stroke="#000" stroke-width="0.85"/>
<line x1="507.69" y1="268" x2="510.29" y2="268" stroke="#000" stroke-width="0.85"/>
<line x1="531.45" y1="267" x2="531.45" y2="288.25" stroke="#000" stroke-width="0.85"/>
<line x1="530.15" y1="267" x2="532.75" y2="267" stroke="#000" stroke-width="0.85"/>
<line x1="530.15" y1="288.25" x2="532.75" y2="288.25" stroke="#000" stroke-width="0.85"/>
<path d="M303.35,203.20 L325.81,206.88 L348.27,218.00 L370.73,226.00 L393.19,216.88 L415.65,225.38 L438.11,223.00 L460.57,228.75 L483.03,226.75 L505.49,227.75 L527.95,224.88" fill="none" stroke="#0000ff" stroke-width="1.0" stroke-linejoin="round"/>
<path d="M306.85,204.07 L329.31,229.45 L351.77,245.25 L374.23,251.38 L396.69,252.62 L419.15,254.75 L441.61,251.88 L464.07,259.62 L486.53,264.00 L508.99,260.25 L531.45,277.62" fill="none" stroke="#000" stroke-width="1.0" stroke-linejoin="round"/>
<circle cx="303.35" cy="203.20" r="2.5" fill="none" stroke="#0000ff" stroke-width="0.8"/><path d="M300.85,203.20H305.85M303.35,200.70V205.70" stroke="#0000ff" stroke-width="0.4"/>
<circle cx="325.81" cy="206.88" r="2.5" fill="none" stroke="#0000ff" stroke-width="0.8"/><path d="M323.31,206.88H328.31M325.81,204.38V209.38" stroke="#0000ff" stroke-width="0.4"/>
<circle cx="348.27" cy="218.00" r="2.5" fill="none" stroke="#0000ff" stroke-width="0.8"/><path d="M345.77,218.00H350.77M348.27,215.50V220.50" stroke="#0000ff" stroke-width="0.4"/>
<circle cx="370.73" cy="226.00" r="2.5" fill="none" stroke="#0000ff" stroke-width="0.8"/><path d="M368.23,226.00H373.23M370.73,223.50V228.50" stroke="#0000ff" stroke-width="0.4"/>
<circle cx="393.19" cy="216.88" r="2.5" fill="none" stroke="#0000ff" stroke-width="0.8"/><path d="M390.69,216.88H395.69M393.19,214.38V219.38" stroke="#0000ff" stroke-width="0.4"/>
<circle cx="415.65" cy="225.38" r="2.5" fill="none" stroke="#0000ff" stroke-width="0.8"/><path d="M413.15,225.38H418.15M415.65,222.88V227.88" stroke="#0000ff" stroke-width="0.4"/>
<circle cx="438.11" cy="223.00" r="2.5" fill="none" stroke="#0000ff" stroke-width="0.8"/><path d="M435.61,223.00H440.61M438.11,220.50V225.50" stroke="#0000ff" stroke-width="0.4"/>
<circle cx="460.57" cy="228.75" r="2.5" fill="none" stroke="#0000ff" stroke-width="0.8"/><path d="M458.07,228.75H463.07M460.57,226.25V231.25" stroke="#0000ff" stroke-width="0.4"/>
<circle cx="483.03" cy="226.75" r="2.5" fill="none" stroke="#0000ff" stroke-width="0.8"/><path d="M480.53,226.75H485.53M483.03,224.25V229.25" stroke="#0000ff" stroke-width="0.4"/>
<circle cx="505.49" cy="227.75" r="2.5" fill="none" stroke="#0000ff" stroke-width="0.8"/><path d="M502.99,227.75H507.99M505.49,225.25V230.25" stroke="#0000ff" stroke-width="0.4"/>
<circle cx="527.95" cy="224.88" r="2.5" fill="none" stroke="#0000ff" stroke-width="0.8"/><path d="M525.45,224.88H530.45M527.95,222.38V227.38" stroke="#0000ff" stroke-width="0.4"/>
<path d="M306.85,200.17L310.23,206.02L303.47,206.02Z" fill="#000"/>
<path d="M329.31,225.55L332.69,231.40L325.93,231.40Z" fill="#000"/>
<path d="M351.77,241.35L355.15,247.20L348.39,247.20Z" fill="#000"/>
<path d="M374.23,247.47L377.61,253.32L370.85,253.32Z" fill="#000"/>
<path d="M396.69,248.72L400.07,254.57L393.31,254.57Z" fill="#000"/>
<path d="M419.15,250.85L422.53,256.70L415.77,256.70Z" fill="#000"/>
<path d="M441.61,247.97L444.99,253.82L438.23,253.82Z" fill="#000"/>
<path d="M464.07,255.72L467.45,261.57L460.69,261.57Z" fill="#000"/>
<path d="M486.53,260.10L489.91,265.95L483.15,265.95Z" fill="#000"/>
<path d="M508.99,256.35L512.37,262.20L505.61,262.20Z" fill="#000"/>
<path d="M531.45,273.73L534.83,279.57L528.07,279.57Z" fill="#000"/>
<text transform="translate(28.3,153.35) scale(0.094,0.1)" font-family="Liberation Sans" fill="#4d4d4d" font-size="81" text-anchor="end">46%</text>
<text transform="translate(28.3,307.95) scale(0.094,0.1)" font-family="Liberation Sans" fill="#4d4d4d" font-size="81" text-anchor="end">46%</text>
<text transform="translate(28.3,142.75) scale(0.094,0.1)" font-family="Liberation Sans" fill="#4d4d4d" font-size="81" text-anchor="end">48%</text>
<text transform="translate(28.3,297.35) scale(0.094,0.1)" font-family="Liberation Sans" fill="#4d4d4d" font-size="81" text-anchor="end">48%</text>
<text transform="translate(28.3,132.15) scale(0.094,0.1)" font-family="Liberation Sans" fill="#4d4d4d" font-size="81" text-anchor="end">50%</text>
<text transform="translate(28.3,286.75) scale(0.094,0.1)" font-family="Liberation Sans" fill="#4d4d4d" font-size="81" text-anchor="end">50%</text>
<text transform="translate(28.3,121.55) scale(0.094,0.1)" font-family="Liberation Sans" fill="#4d4d4d" font-size="81" text-anchor="end">52%</text>
<text transform="translate(28.3,276.15) scale(0.094,0.1)" font-family="Liberation Sans" fill="#4d4d4d" font-size="81" text-anchor="end">52%</text>
<text transform="translate(28.3,110.95) scale(0.094,0.1)" font-family="Liberation Sans" fill="#4d4d4d" font-size="81" text-anchor="end">54%</text>
<text transform="translate(28.3,265.55) scale(0.094,0.1)" font-family="Liberation Sans" fill="#4d4d4d" font-size="81" text-anchor="end">54%</text>
<text transform="translate(28.3,100.35) scale(0.094,0.1)" font-family="Liberation Sans" fill="#4d4d4d" font-size="81" text-anchor="end">56%</text>
<text transform="translate(28.3,254.95) scale(0.094,0.1)" font-family="Liberation Sans" fill="#4d4d4d" font-size="81" text-anchor="end">56%</text>
<text transform="translate(28.3,89.75) scale(0.094,0.1)" font-family="Liberation Sans" fill="#4d4d4d" font-size="81" text-anchor="end">58%</text>
<text transform="translate(28.3,244.35) scale(0.094,0.1)" font-family="Liberation Sans" fill="#4d4d4d" font-size="81" text-anchor="end">58%</text>
<text transform="translate(28.3,79.15) scale(0.094,0.1)" font-family="Liberation Sans" fill="#4d4d4d" font-size="81" text-anchor="end">60%</text>
<text transform="translate(28.3,233.75) scale(0.094,0.1)" font-family="Liberation Sans" fill="#4d4d4d" font-size="81" text-anchor="end">60%</text>
<text transform="translate(28.3,68.55) scale(0.094,0.1)" font-family="Liberation Sans" fill="#4d4d4d" font-size="81" text-anchor="end">62%</text>
<text transform="translate(28.3,223.15) scale(0.094,0.1)" font-family="Liberation Sans" fill="#4d4d4d" font-size="81" text-anchor="end">62%</text>
<text transform="translate(28.3,57.95) scale(0.094,0.1)" font-family="Liberation Sans" fill="#4d4d4d" font-size="81" text-anchor="end">64%</text>
<text transform="translate(28.3,212.55) scale(0.094,0.1)" font-family="Liberation Sans" fill="#4d4d4d" font-size="81" text-anchor="end">64%</text>
<text transform="translate(28.3,47.35) scale(0.094,0.1)" font-family="Liberation Sans" fill="#4d4d4d" font-size="81" text-anchor="end">66%</text>
<text transform="translate(28.3,201.95) scale(0.094,0.1)" font-family="Liberation Sans" fill="#4d4d4d" font-size="81" text-anchor="end">66%</text>
<text transform="translate(28.3,36.75) scale(0.094,0.1)" font-family="Liberation Sans" fill="#4d4d4d" font-size="81" text-anchor="end">68%</text>
<text transform="translate(28.3,191.35) scale(0.094,0.1)" font-family="Liberation Sans" fill="#4d4d4d" font-size="81" text-anchor="end">68%</text>
<text transform="translate(28.3,26.15) scale(0.094,0.1)" font-family="Liberation Sans" fill="#4d4d4d" font-size="81" text-anchor="end">70%</text>
<text transform="translate(28.3,180.75) scale(0.094,0.1)" font-family="Liberation Sans" fill="#4d4d4d" font-size="81" text-anchor="end">70%</text>
<text transform="translate(28.3,15.55) scale(0.094,0.1)" font-family="Liberation Sans" fill="#4d4d4d" font-size="81" text-anchor="end">72%</text>
<text transform="translate(28.3,170.15) scale(0.094,0.1)" font-family="Liberation Sans" fill="#4d4d4d" font-size="81" text-anchor="end">72%</text>
<text transform="translate(46.70,315.2) scale(0.094,0.1)" font-family="Liberation Sans" fill="#4d4d4d" font-size="81" text-anchor="middle">0</text>
<text transform="translate(305.10,315.2) scale(0.094,0.1)" font-family="Liberation Sans" fill="#4d4d4d" font-size="81" text-anchor="middle">0</text>
<text transform="translate(69.16,315.2) scale(0.094,0.1)" font-family="Liberation Sans" fill="#4d4d4d" font-size="81" text-anchor="middle">1</text>
<text transform="translate(327.56,315.2) scale(0.094,0.1)" font-family="Liberation Sans" fill="#4d4d4d" font-size="81" text-anchor="middle">1</text>
<text transform="translate(91.62,315.2) scale(0.094,0.1)" font-family="Liberation Sans" fill="#4d4d4d" font-size="81" text-anchor="middle">2</text>
<text transform="translate(350.02,315.2) scale(0.094,0.1)" font-family="Liberation Sans" fill="#4d4d4d" font-size="81" text-anchor="middle">2</text>
<text transform="translate(114.08,315.2) scale(0.094,0.1)" font-family="Liberation Sans" fill="#4d4d4d" font-size="81" text-anchor="middle">3</text>
<text transform="translate(372.48,315.2) scale(0.094,0.1)" font-family="Liberation Sans" fill="#4d4d4d" font-size="81" text-anchor="middle">3</text>
<text transform="translate(136.54,315.2) scale(0.094,0.1)" font-family="Liberation Sans" fill="#4d4d4d" font-size="81" text-anchor="middle">4</text>
<text transform="translate(394.94,315.2) scale(0.094,0.1)" font-family="Liberation Sans" fill="#4d4d4d" font-size="81" text-anchor="middle">4</text>
<text transform="translate(159.00,315.2) scale(0.094,0.1)" font-family="Liberation Sans" fill="#4d4d4d" font-size="81" text-anchor="middle">5</text>
<text transform="translate(417.40,315.2) scale(0.094,0.1)" font-family="Liberation Sans" fill="#4d4d4d" font-size="81" text-anchor="middle">5</text>
<text transform="translate(181.46,315.2) scale(0.094,0.1)" font-family="Liberation Sans" fill="#4d4d4d" font-size="81" text-anchor="middle">6</text>
<text transform="translate(439.86,315.2) scale(0.094,0.1)" font-family="Liberation Sans" fill="#4d4d4d" font-size="81" text-anchor="middle">6</text>
<text transform="translate(203.92,315.2) scale(0.094,0.1)" font-family="Liberation Sans" fill="#4d4d4d" font-size="81" text-anchor="middle">7</text>
<text transform="translate(462.32,315.2) scale(0.094,0.1)" font-family="Liberation Sans" fill="#4d4d4d" font-size="81" text-anchor="middle">7</text>
<text transform="translate(226.38,315.2) scale(0.094,0.1)" font-family="Liberation Sans" fill="#4d4d4d" font-size="81" text-anchor="middle">8</text>
<text transform="translate(484.78,315.2) scale(0.094,0.1)" font-family="Liberation Sans" fill="#4d4d4d" font-size="81" text-anchor="middle">8</text>
<text transform="translate(248.84,315.2) scale(0.094,0.1)" font-family="Liberation Sans" fill="#4d4d4d" font-size="81" text-anchor="middle">9</text>
<text transform="translate(507.24,315.2) scale(0.094,0.1)" font-family="Liberation Sans" fill="#4d4d4d" font-size="81" text-anchor="middle">9</text>
<text transform="translate(271.30,315.2) scale(0.094,0.1)" font-family="Liberation Sans" fill="#4d4d4d" font-size="81" text-anchor="middle">10</text>
<text transform="translate(529.70,315.2) scale(0.094,0.1)" font-family="Liberation Sans" fill="#4d4d4d" font-size="81" text-anchor="middle">10</text>
<text x="159.1" y="8.7" font-family="Liberation Sans" fill="#1a1a1a" font-size="5.9" text-anchor="middle">Condition 1: crosslinguistic mapping</text>
<text x="417.8" y="8.7" font-family="Liberation Sans" fill="#1a1a1a" font-size="5.9" text-anchor="middle">Condition 2: emotion identification</text>
<text x="159.1" y="163.1" font-family="Liberation Sans" fill="#1a1a1a" font-size="5.9" text-anchor="middle">Condition 3: unrelated task</text>
<text x="417.8" y="163.1" font-family="Liberation Sans" fill="#1a1a1a" font-size="5.9" text-anchor="middle">Condition 4: control</text>
<text x="288.4" y="324.1" font-family="Liberation Sans" font-size="8.1" fill="#000" text-anchor="middle">Number of audio exposures elapsed</text>
<text transform="translate(9.2,159.2) rotate(-90)" x="0" y="0" font-family="Liberation Sans" font-size="8.0" fill="#000" text-anchor="middle">Likelihood of voiceless judgment (%)</text>
<rect x="418.2" y="9" width="53.4" height="15.2" fill="#fff"/>
<rect x="418.2" y="24" width="120.8" height="16.5" fill="#fff"/>
<text x="422.8" y="19.9" font-family="Liberation Sans" font-weight="bold" font-size="7.4" fill="#000">Plosive Place</text>
<circle cx="426.5" cy="27.9" r="2.45" fill="none" stroke="#0000ff" stroke-width="1"/><path d="M424.1,27.9H428.9M426.5,25.5V30.3" stroke="#0000ff" stroke-width="0.4"/>
<path d="M426.40,31.40L429.78,37.25L423.02,37.25Z" fill="#000"/>
<text x="433.9" y="30.6" font-family="Liberation Sans" font-size="7.36" fill="#000">bilabial (present in FL exposure)</text>
<text x="433.7" y="37.8" font-family="Liberation Sans" font-size="7.36" fill="#000">velar (absent from FL exposure)</text>
</svg>
</body></html>
